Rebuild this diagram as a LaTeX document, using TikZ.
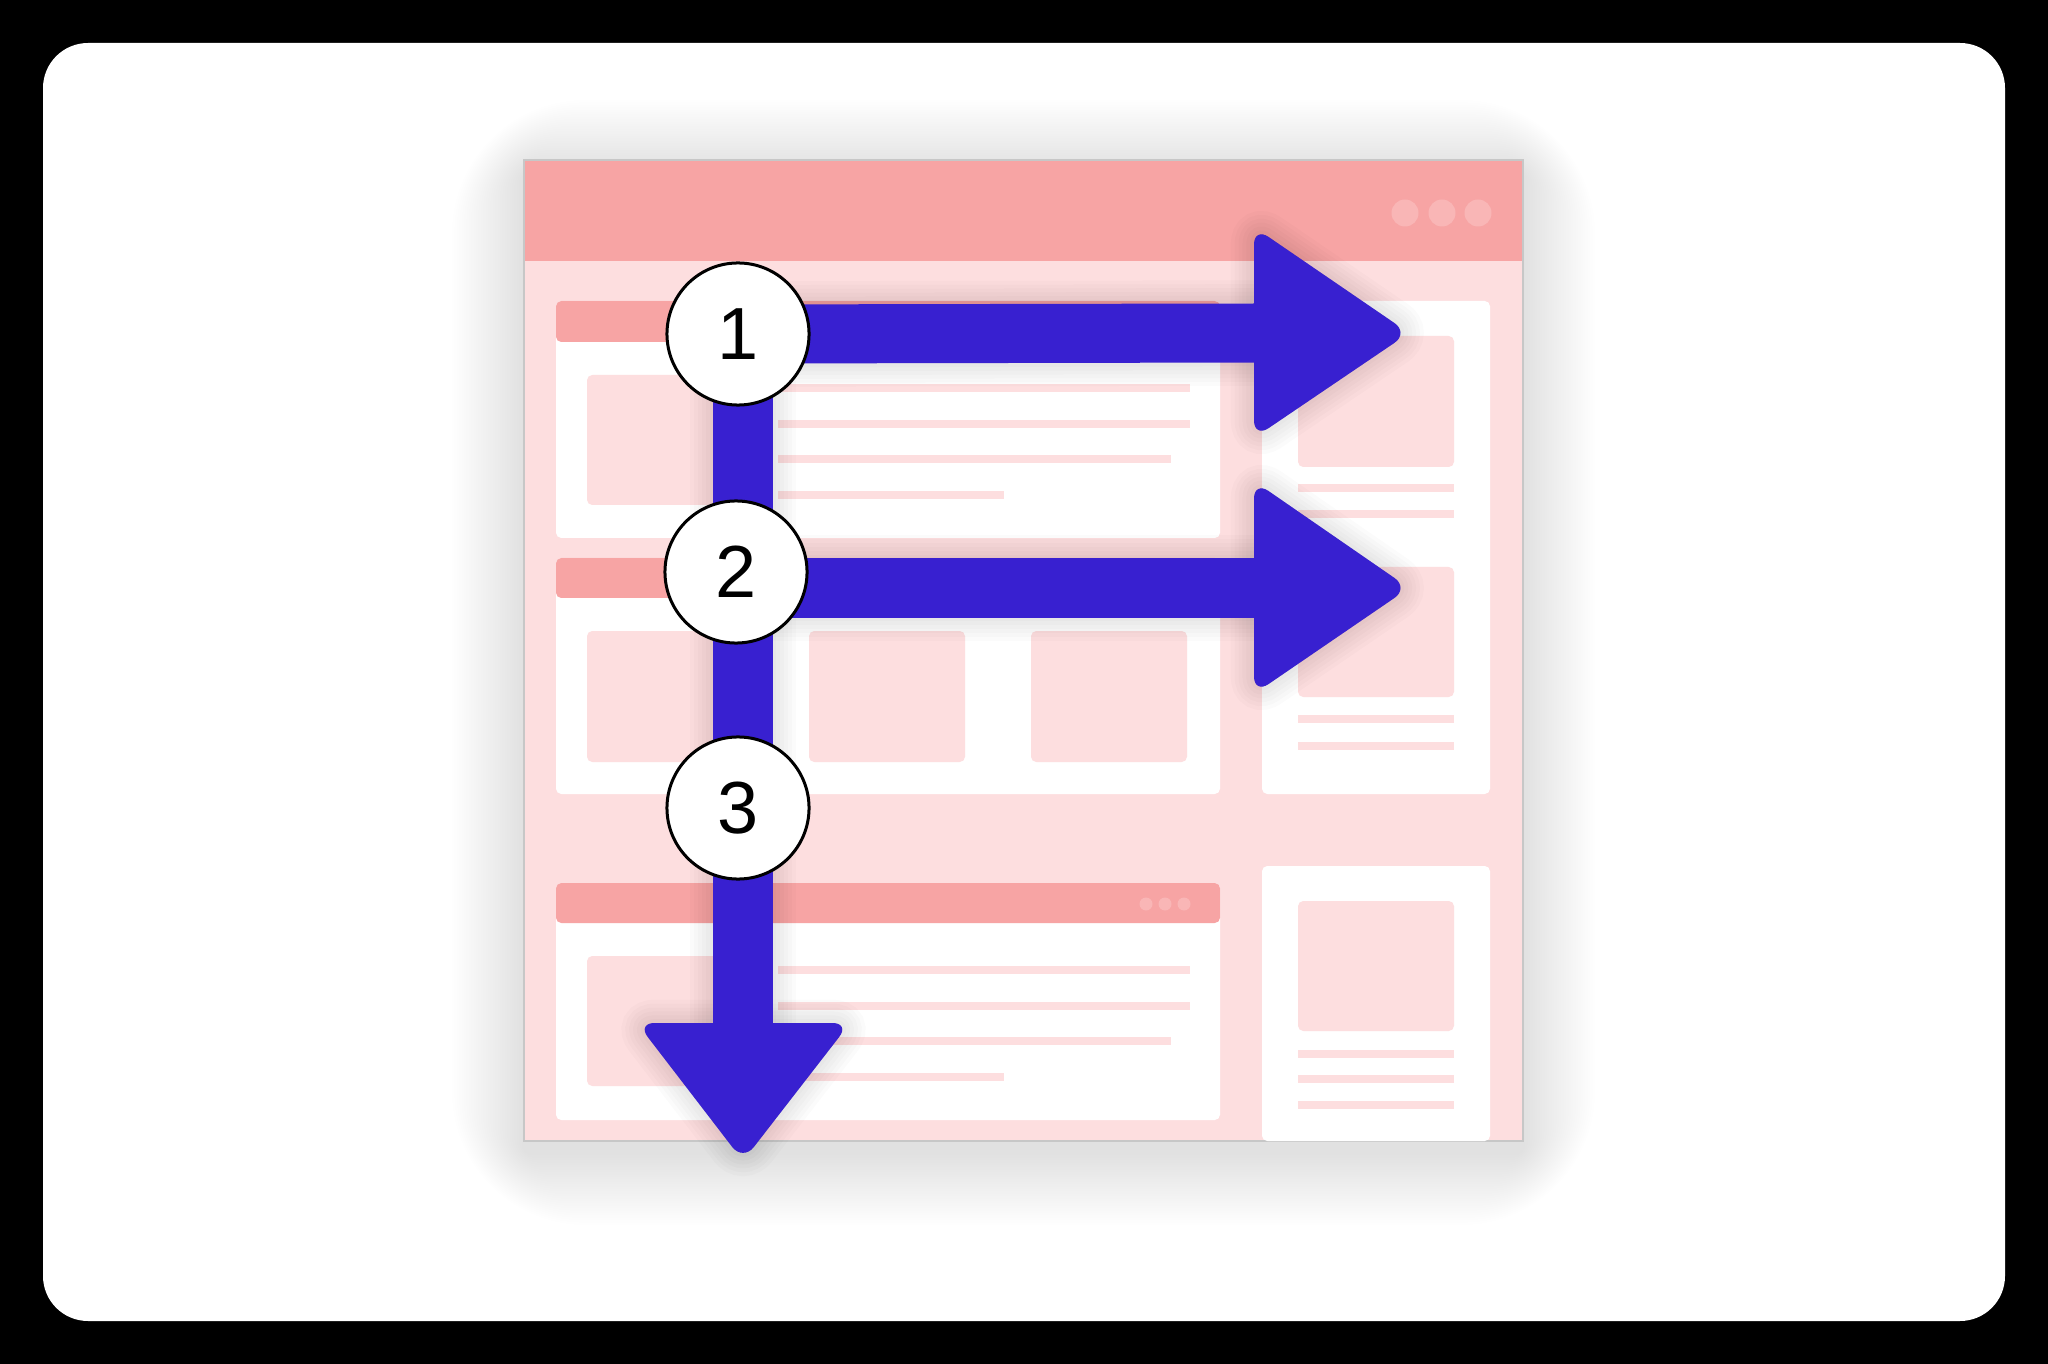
\documentclass[tikz,border=0pt]{standalone}
\usepackage{fontspec}
\setmainfont{Liberation Sans}
\usetikzlibrary{calc}
\definecolor{barc}{HTML}{F7A4A4}
\definecolor{bodyc}{HTML}{FDDEDF}
\definecolor{phc}{HTML}{FDDEDF}
\definecolor{dotc}{HTML}{F9B6B6}
\definecolor{arrowc}{RGB}{56,32,208}
\begin{document}
\begin{tikzpicture}[x=0.01cm,y=-0.01cm,
  card/.style={fill=white,rounded corners=1.5pt},
  header/.style={fill=barc,rounded corners=1.5pt},
  ph/.style={fill=phc,rounded corners=1.5pt},
  txtline/.style={draw=phc,line width=0.08cm},
  shaft/.style={draw=arrowc,line width=0.59cm},
  headc/.style={fill=arrowc,rounded corners=5pt},
  numc/.style={circle,draw=black,line width=0.03cm,fill=white,minimum size=1.42cm,inner sep=0pt,font=\fontsize{21}{21}\selectfont}]
\useasboundingbox (0,0) rectangle (2048,1364);
\fill[black] (0,0) rectangle (2048,1364);
\fill[white,rounded corners=0.45cm] (43,43) rectangle (2005,1321);
% window shadow
\foreach \i in {1,...,30}{
  \fill[black,opacity=0.0055,rounded corners=2pt+\i*1.2pt] ({524-\i*2.4},{160-\i*2.4+12}) rectangle ({1523+\i*2.4},{1141+\i*2.4+12});
}
% window
\fill[bodyc] (524,160) rectangle (1523,1141);
\fill[barc] (524,160) rectangle (1523,261);
\draw[black!22,line width=0.4pt] (524,160) rectangle (1523,1141);
\foreach \x in {1405,1442,1478} \fill[dotc] (\x,213) circle[radius=13.5];
% cards
\fill[card] (556,301) rectangle (1220,538);
\fill[header] (556,301) rectangle (1220,342);
\fill[card] (556,558) rectangle (1220,794);
\fill[header] (556,558) rectangle (1220,598);
\fill[card] (556,883) rectangle (1220,1120);
\fill[header] (556,883) rectangle (1220,923);
\foreach \x in {1146,1165,1184} \fill[dotc] (\x,904) circle[radius=6.5];
\fill[card] (1262,301) rectangle (1490,794);
\fill[card] (1262,866) rectangle (1490,1141);
% placeholders
\fill[ph] (587,375) rectangle (743,505);
\fill[ph] (587,631) rectangle (743,762);
\fill[ph] (809,631) rectangle (965,762);
\fill[ph] (1031,631) rectangle (1187,762);
\fill[ph] (587,956) rectangle (743,1086);
\fill[ph] (1298,336) rectangle (1454,467);
\fill[ph] (1298,567) rectangle (1454,697);
\fill[ph] (1298,901) rectangle (1454,1031);
% text lines
\foreach \y/\e in {388/1190,424/1190,459/1171,495/1004,970/1190,1006/1190,1041/1171,1077/1004}
  \draw[txtline] (778,\y) -- (\e,\y);
\foreach \y in {488,514,719,746,1054,1079,1105}
  \draw[txtline] (1298,\y) -- (1454,\y);
% arrow anchors
\coordinate (p1) at (738,334);
\coordinate (p2) at (736,572);
\coordinate (p3) at (738,808);
\coordinate (e1) at (1409,333);
\coordinate (e2) at (1409,588);
\coordinate (e3) at (743,1161);
% arrow shadows
\foreach \i in {1,...,6}{
  \begin{scope}[shift={(3,8)},opacity=0.016]
    \draw[black,line width=0.59cm+\i*2.2pt] (p1) -- ($(e1)+(-145,0)$);
    \draw[black,line width=0.59cm+\i*2.2pt] (p2 |- e2) -- ($(e2)+(-145,0)$);
    \draw[black,line width=0.59cm+\i*2.2pt] (e3 |- p1) -- ($(e3)+(0,-130)$);
    \fill[black,rounded corners=5pt,draw=black,line width=\i*2.2pt] ($(e1)+(-155,-106)$) -- (e1) -- ($(e1)+(-155,105)$) -- cycle;
    \fill[black,rounded corners=5pt,draw=black,line width=\i*2.2pt] ($(e2)+(-155,-107)$) -- (e2) -- ($(e2)+(-155,106)$) -- cycle;
    \fill[black,rounded corners=5pt,draw=black,line width=\i*2.2pt] ($(e3)+(-106,-138)$) -- ($(e3)+(107,-138)$) -- (e3) -- cycle;
  \end{scope}
}
% arrows
\draw[shaft] (p1) -- ($(e1)+(-145,0)$);
\fill[headc] ($(e1)+(-155,-106)$) -- (e1) -- ($(e1)+(-155,105)$) -- cycle;
\draw[shaft] (p2 |- e2) -- ($(e2)+(-145,0)$);
\fill[headc] ($(e2)+(-155,-107)$) -- (e2) -- ($(e2)+(-155,106)$) -- cycle;
\draw[shaft] (e3 |- p1) -- ($(e3)+(0,-130)$);
\fill[headc] ($(e3)+(-106,-138)$) -- ($(e3)+(107,-138)$) -- (e3) -- cycle;
% numbered circles
\node[numc] (c1) at (p1) {1};
\node[numc] (c2) at (p2) {2};
\node[numc] (c3) at (p3) {3};
\end{tikzpicture}
\end{document}
